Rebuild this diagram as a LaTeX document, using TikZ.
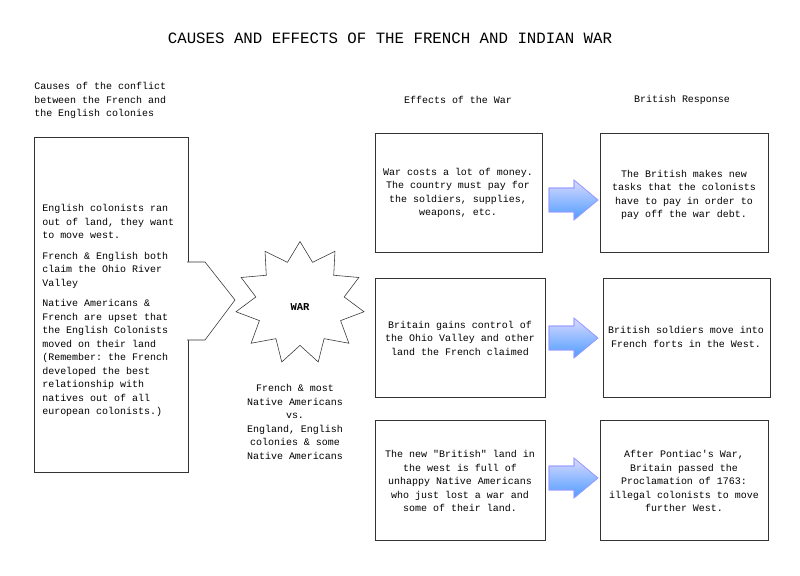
\documentclass[tikz,border=0pt]{standalone}
\usepackage{fontspec}
\setmonofont{Liberation Mono}
\usetikzlibrary{shapes.geometric,positioning}
\begin{document}
\begin{tikzpicture}
  [x=0.025cm,y=-0.025cm,
  txt/.style={font=\ttfamily\fontsize{7.1}{9.6}\selectfont,align=center,inner sep=0pt},
  box/.style={draw=black!80,fill=white,thin},
  bluearrow/.style={draw=blue!40,top color=blue!15,bottom color=blue!55!cyan!70,shading angle=0}
  ]
  \useasboundingbox (0,0) rectangle (800,576);
  \node[font=\ttfamily\fontsize{11.2}{13}\selectfont] (title) at (390,38) {CAUSES AND EFFECTS OF THE FRENCH AND INDIAN WAR};
  \node[txt,align=left,anchor=north west] (causeshead) at (34,82) {Causes of the conflict\\between the French and\\the English colonies};
  \node[txt] (effectshead) at (458,100) {Effects of the War};
  \node[txt] (responsehead) at (682,100) {British Response};
  % causes
  \draw[box] (34,137) rectangle (188,472);
  \draw[box] (187,262) -- (205,262) -- (235,300) -- (205,340) -- (187,340);
  \node[txt,align=left,anchor=north west] (causes) at (42,204) {English colonists ran\\out of land, they want\\to move west.\\[5pt]
    French \& English both\\claim the Ohio River\\Valley\\[5pt]
    Native Americans \&\\French are upset that\\the English Colonists\\moved on their land\\(Remember: the French\\developed the best\\relationship with\\natives out of all\\european colonists.)};
  % war
  \node[star,star points=11,star point ratio=1.45,draw=black!80,minimum size=92,inner sep=0pt,yscale=0.95] (war) at (300,303) {};
  \node[txt,font=\ttfamily\bfseries\fontsize{7.5}{10}\selectfont] (wartext) at (300,307) {WAR};
  \node[txt] (sides) at (295,422) {French \& most\\Native Americans\\vs.\\England, English\\colonies \& some\\Native Americans};
  % effects
  \draw[box] (375,133) rectangle (542,252);
  \node[txt] (effect1) at (458,193) {War costs a lot of money.\\The country must pay for\\the soldiers, supplies,\\weapons, etc.};
  \draw[box] (375,278) rectangle (545,397);
  \node[txt] (effect2) at (460,338) {Britain gains control of\\the Ohio Valley and other\\land the French claimed};
  \draw[box] (375,420) rectangle (545,540);
  \node[txt] (effect3) at (460,481) {The new "British" land in\\the west is full of\\unhappy Native Americans\\who just lost a war and\\some of their land.};
  % responses
  \draw[box] (600,133) rectangle (768,252);
  \node[txt] (response1) at (684,195) {The British makes new\\tasks that the colonists\\have to pay in order to\\pay off the war debt.};
  \draw[box] (603,278) rectangle (770,397);
  \node[txt] (response2) at (686,337) {British soldiers move into\\French forts in the West.};
  \draw[box] (600,420) rectangle (768,540);
  \node[txt] (response3) at (684,481) {After Pontiac's War,\\Britain passed the\\Proclamation of 1763:\\illegal colonists to move\\further West.};
  % arrows
  \foreach \yy in {200,338,478}
    \shade[bluearrow] (549,\yy-12) -- (574,\yy-12) -- (574,\yy-20) -- (598,\yy) -- (574,\yy+20) -- (574,\yy+12) -- (549,\yy+12) -- cycle;
  \foreach \yy in {200,338,478}
    \draw[blue!40] (549,\yy-12) -- (574,\yy-12) -- (574,\yy-20) -- (598,\yy) -- (574,\yy+20) -- (574,\yy+12) -- (549,\yy+12) -- cycle;
\end{tikzpicture}
\end{document}
